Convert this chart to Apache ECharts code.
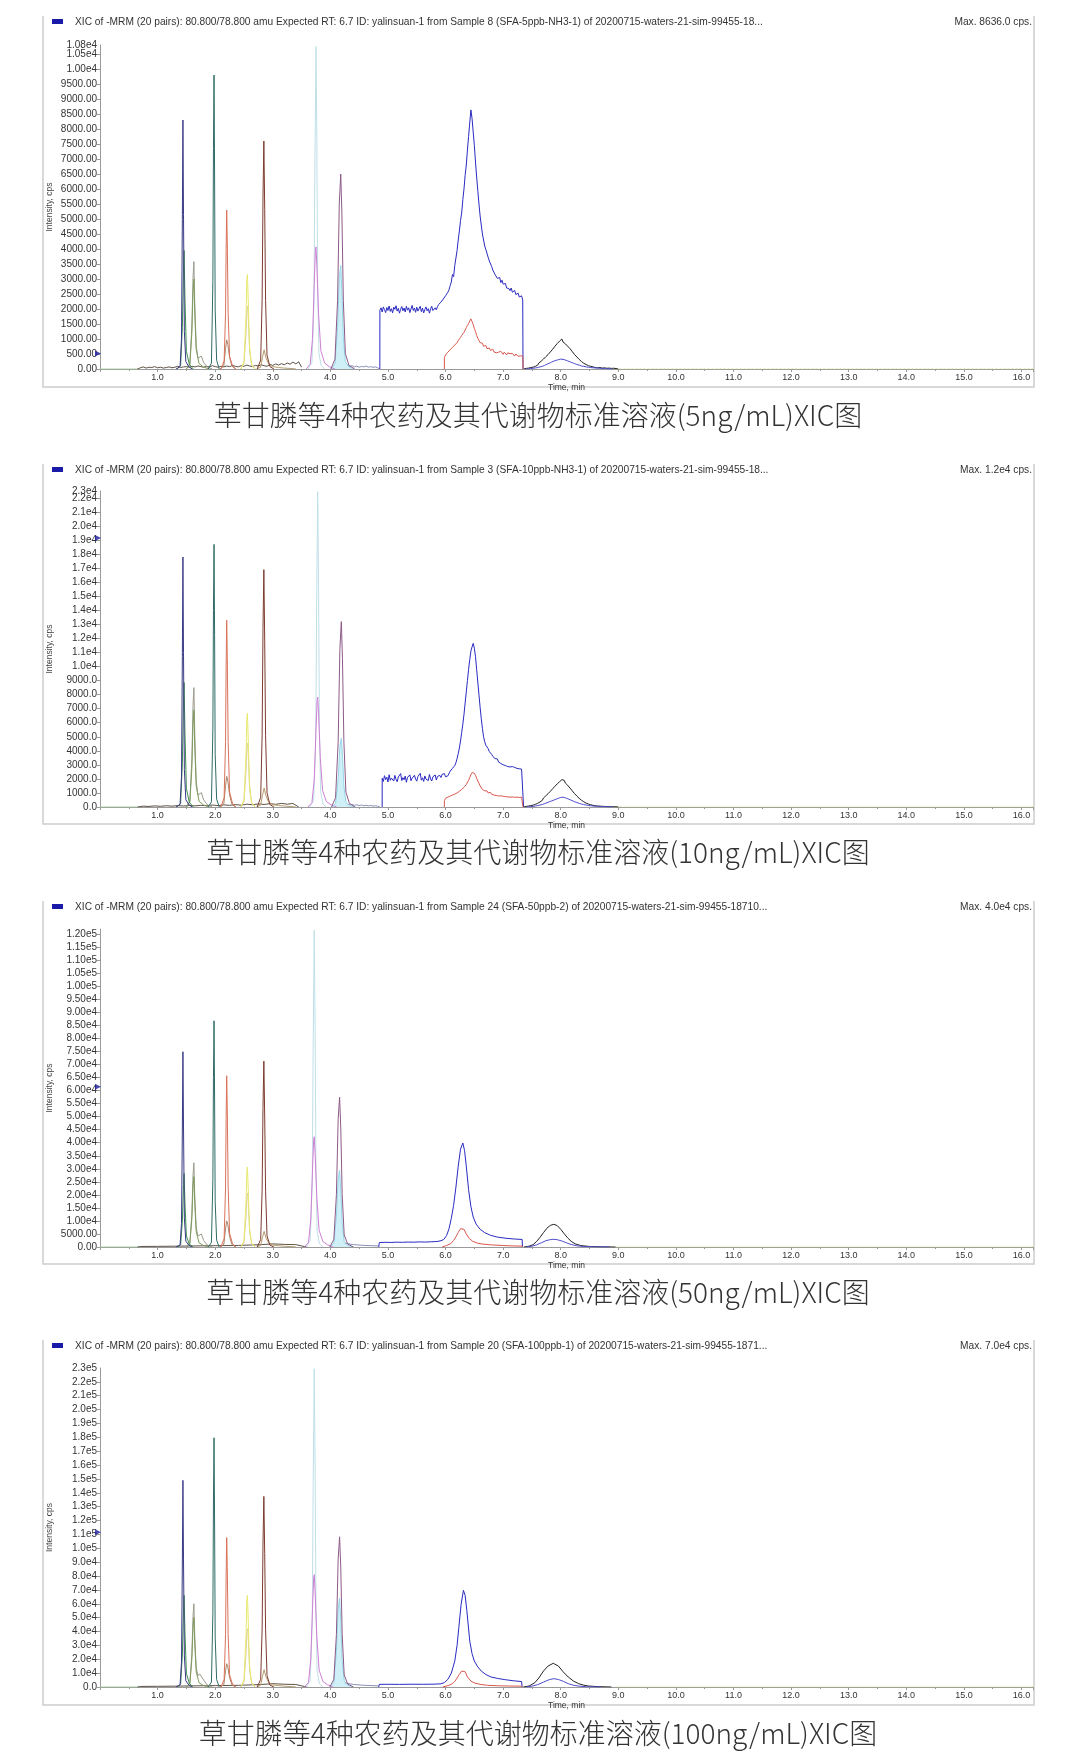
<!DOCTYPE html>
<html>
<head>
<meta charset="utf-8">
<script src="https://cdn.jsdelivr.net/npm/echarts@6/dist/echarts.min.js"></script>
<style>
  html, body { margin: 0; padding: 0; background: #fff; }
  #chart { width: 1080px; height: 1758px; }
</style>
</head>
<body>
<div id="chart"></div>
<script>
// ---- data: retention-time grids shared by the four runs (min) ----
const T_NAVY   = [1.32, 1.39, 1.415, 1.43, 1.44, 1.45, 1.465, 1.49, 1.54, 1.60];
const T_GREEN  = [1.34, 1.40, 1.43, 1.45, 1.46, 1.475, 1.50, 1.55, 1.62];
const T_GRAY   = [1.50, 1.56, 1.595, 1.615, 1.63, 1.645, 1.67, 1.70, 1.73, 1.76, 1.80, 1.86, 1.95];
const T_OLIVE  = [1.50, 1.56, 1.595, 1.615, 1.63, 1.645, 1.67, 1.72, 1.80, 1.90];
const T_TEAL   = [1.88, 1.935, 1.96, 1.97, 1.98, 1.99, 2.00, 2.025, 2.07];
const T_RED    = [2.10, 2.155, 2.18, 2.19, 2.20, 2.21, 2.225, 2.25, 2.30, 2.36];
const T_BROWN  = [2.08, 2.15, 2.18, 2.20, 2.22, 2.25, 2.29, 2.35];
const T_YELLOW = [2.45, 2.50, 2.535, 2.55, 2.56, 2.575, 2.595, 2.63, 2.69];
const T_TAN    = [2.44, 2.50, 2.535, 2.55, 2.565, 2.58, 2.60, 2.64, 2.70];
const T_DBROWN = [2.73, 2.79, 2.815, 2.83, 2.845, 2.86, 2.875, 2.90, 2.95, 3.02];
const T_TAN2   = [2.72, 2.79, 2.82, 2.85, 2.88, 2.93, 3.00, 3.10, 3.20, 3.30, 3.40];

// later peaks drift a little between runs
const T_CYAN_1 = [3.61, 3.68, 3.715, 3.732, 3.75, 3.765, 3.78, 3.80, 3.84, 3.90];
const T_CYAN_2 = [3.64, 3.71, 3.745, 3.762, 3.78, 3.795, 3.81, 3.83, 3.87, 3.93];
const T_CYAN_3 = [3.58, 3.65, 3.685, 3.702, 3.72, 3.735, 3.75, 3.77, 3.81, 3.87];
const T_PINK_1 = [3.58, 3.65, 3.69, 3.72, 3.74, 3.75, 3.765, 3.795, 3.835, 3.90, 3.98, 4.08];
const T_PINK_2 = [3.61, 3.68, 3.72, 3.75, 3.77, 3.78, 3.795, 3.825, 3.865, 3.93, 4.01, 4.11];
const T_PINK_3 = [3.55, 3.62, 3.66, 3.69, 3.71, 3.72, 3.735, 3.765, 3.805, 3.87, 3.95, 4.05];
const T_MAUVE_1 = [4.01, 4.08, 4.125, 4.155, 4.18, 4.20, 4.225, 4.26, 4.32, 4.42];
const T_MAUVE_2 = [4.02, 4.09, 4.135, 4.165, 4.19, 4.21, 4.235, 4.27, 4.33, 4.43];
const T_MAUVE_3 = [3.99, 4.06, 4.105, 4.135, 4.16, 4.18, 4.205, 4.24, 4.30, 4.40];

// ---- 5 ng/mL ----
const p1Navy   = [0, 80, 1000, 4980, 8300, 5150, 1250, 250, 80, 0];
const p1Green  = [0, 120, 1380, 3360, 3950, 2370, 590, 160, 0];
const p1Gray   = [0, 180, 1430, 3040, 3580, 2220, 790, 360, 390, 430, 210, 70, 0];
const p1Olive  = [0, 150, 1200, 2550, 3000, 1860, 660, 180, 60, 0];
const p1Teal   = [0, 200, 2940, 7350, 9800, 6370, 1960, 290, 0];
const p1Red    = [0, 270, 1860, 3980, 5300, 4240, 1860, 420, 110, 0];
const p1Brown  = [0, 100, 680, 970, 820, 390, 100, 0];
const p1Yellow = [0, 250, 1730, 2990, 3150, 2200, 790, 160, 0];
const p1Tan    = [0, 170, 1150, 1990, 2090, 1460, 520, 100, 0];
const p1DBrown = [0, 300, 2280, 5700, 7600, 5320, 2280, 460, 80, 0];
const p1Tan2   = [0, 60, 380, 640, 380, 160, 80, 50, 30, 20, 0];
const p1Cyan   = [0, 215, 2150, 6990, 10750, 7530, 2690, 540, 110, 0];
const p1Pink   = [0, 160, 1020, 2850, 3950, 4070, 3460, 1830, 610, 200, 80, 0];
const p1Mauve  = [0, 330, 2280, 5530, 6500, 5200, 2280, 520, 130, 0];
const p1CyanFill = [0, 170, 1380, 3040, 3450, 2590, 1040, 240, 70, 0];
const p1Base = [0, 40, 70, 30, 60, 50, 80, 40, 60, 30,
  50, 70, 40, 60, 90, 50, 70, 80, 60, 90,
  70, 100, 80, 60, 90, 70, 110, 80, 60, 90,
  70, 100, 80, 120, 90, 70, 110, 90, 130, 100,
  80, 120, 100, 140, 110, 90, 150, 120, 170, 130,
  180, 140, 200, 160, 230, 170, 240, 60];
const p1Tail = [120, 90, 110, 70, 95, 60, 85, 70, 100, 60, 80, 55, 70, 40, 0];
const p1Blue = [1960, 2040, 1900, 2070, 1980, 1880, 2050, 1950, 2100, 1920,
  2010, 1870, 2060, 1990, 2110, 1930, 2020, 1860, 1990, 2080,
  1940, 2030, 1900, 2090, 1960, 2040, 1880, 2000, 2120, 1950,
  2030, 1890, 2060, 1930, 1990, 2090, 1910, 2030, 1870, 1980,
  2070, 1940, 2010, 1860, 2000, 2090, 1950, 1890, 2040, 1970,
  2080, 2150, 2090, 2230, 2180, 2330, 2280, 2440, 2380, 2560,
  2640, 2780, 2900, 3150, 3080, 3450, 3700, 3950, 4300, 4600,
  4950, 5200, 5650, 6000, 6450, 6800, 7300, 7750, 8200, 8636,
  8350, 7900, 7450, 6900, 6400, 5950, 5500, 5100, 4800, 4500,
  4300, 4100, 3980, 3950, 3720, 3600, 3580, 3420, 3300, 3320,
  3150, 3180, 3020, 2990, 3050, 2880, 2960, 2830, 2790, 2850,
  2700, 2760, 2680, 2610, 2700, 2560, 2580, 2620, 2480, 2450, 2530, 2400, 2380, 2440, 2300];
const p1Red2 = [380, 470, 420, 560, 520, 640, 600, 720, 680, 800,
  760, 880, 950, 900, 1050, 1120, 1060, 1220, 1300, 1380,
  1450, 1520, 1600, 1670, 1580, 1480, 1350, 1250, 1120, 1030,
  950, 880, 820, 860, 760, 720, 780, 680, 640, 700,
  620, 590, 660, 570, 610, 540, 600, 560, 520, 590,
  530, 490, 560, 500, 470, 540, 480, 510, 450, 520,
  470, 430, 500, 450, 420, 480, 440, 470, 430];
const p1Black = [0, 40, 20, 60, 30, 70, 50, 90, 60, 110,
  90, 150, 130, 200, 180, 260, 230, 330, 300, 410,
  380, 480, 460, 570, 540, 660, 620, 760, 720, 850,
  800, 930, 880, 1000, 900, 960, 840, 880, 760, 800,
  680, 700, 580, 600, 480, 500, 400, 410, 320, 330,
  250, 270, 190, 210, 150, 160, 110, 130, 90, 100,
  70, 90, 50, 80, 40, 70, 50, 60, 30, 55,
  40, 50, 25, 45, 30, 40, 20, 35, 25, 30, 15, 20, 0];
const p1BlueSmall = [0, 20, 10, 30, 15, 40, 25, 50, 35, 60,
  50, 80, 70, 110, 90, 140, 120, 180, 160, 210,
  190, 250, 230, 290, 260, 320, 290, 340, 310, 350,
  330, 360, 320, 340, 300, 310, 270, 280, 240, 250,
  210, 220, 180, 190, 150, 160, 130, 140, 100, 110,
  90, 100, 70, 80, 60, 70, 50, 55, 40, 45,
  35, 40, 30, 35, 25, 30, 20, 25, 15, 20, 12, 15, 10, 12, 5, 0];

// ---- 10 ng/mL ----
const p2Navy   = [0, 180, 2140, 10700, 17800, 11000, 2670, 530, 180, 0];
const p2Green  = [0, 270, 3100, 7530, 8860, 5320, 1330, 350, 0];
const p2Gray   = [0, 430, 3400, 7230, 8500, 5270, 1870, 850, 940, 1020, 510, 170, 0];
const p2Olive  = [0, 350, 2760, 5870, 6900, 4280, 1520, 410, 140, 0];
const p2Teal   = [0, 370, 5610, 14000, 18700, 12200, 3740, 560, 0];
const p2Red    = [0, 670, 4660, 9980, 13300, 10640, 4660, 1060, 270, 0];
const p2Brown  = [0, 220, 1530, 2180, 1850, 870, 220, 0];
const p2Yellow = [0, 530, 3670, 6350, 6680, 4680, 1670, 330, 0];
const p2Tan    = [0, 360, 2500, 4320, 4550, 3190, 1140, 230, 0];
const p2DBrown = [0, 680, 5070, 12700, 16900, 11800, 5070, 1010, 170, 0];
const p2Tan2   = [0, 140, 810, 1350, 810, 340, 160, 110, 70, 40, 0];
const p2Cyan   = [0, 450, 4490, 14600, 22450, 15700, 5610, 1120, 220, 0];
const p2Pink   = [0, 310, 1960, 5470, 7590, 7820, 6650, 3520, 1170, 390, 160, 0];
const p2Mauve  = [0, 660, 4620, 11200, 13200, 10560, 4620, 1060, 260, 0];
const p2CyanFill = [0, 250, 1960, 4310, 4900, 3680, 1470, 340, 100, 0];
const p2Base = [0, 60, 40, 80, 50, 90, 60, 100, 70, 110, 80, 120, 90, 140, 100,
  150, 120, 170, 130, 200, 160, 220, 180, 240, 190, 260, 200, 250, 0];
const p2Tail = [200, 150, 180, 120, 160, 100, 140, 90, 120, 80, 110, 70, 90, 60, 0];
const p2Blue = [2050, 1820, 2230, 1950, 2120, 1780, 2300, 1900, 2060, 2180,
  1850, 2250, 1970, 1800, 2140, 2020, 2380, 1880, 2090, 1940,
  2200, 1760, 2110, 2010, 2290, 1870, 2050, 1930, 2260, 1990,
  1840, 2170, 2060, 2400, 1910, 2080, 1820, 2210, 1990, 2130,
  1880, 2320, 2000, 1850, 2150, 2060, 2280, 1920, 2180, 2040,
  2250, 2100, 2320, 2200, 2380, 2150, 2280, 2220,
  2350, 2550, 2480, 2750, 2700, 2950, 3150, 3450, 3800, 4200,
  4700, 5300, 5900, 6600, 7400, 8200, 9000, 9800, 10500, 11100,
  11400, 11650, 11300, 10700, 9800, 8900, 8000, 7100, 6300, 5600,
  5000, 4650, 4400, 4450, 4150, 3950, 4000, 3750, 3600, 3650,
  3450, 3380, 3420, 3200, 3250, 3100, 3180, 3000, 3050, 2950,
  3020, 2880, 2950, 2850, 2800, 2880, 2760, 2820, 2700, 2750, 2680, 2720, 2640, 2700, 2650];
const p2Red2 = [450, 620, 520, 700, 600, 780, 680, 850, 760, 920,
  850, 1000, 950, 1120, 1080, 1250, 1200, 1400, 1380, 1600,
  1700, 1900, 2100, 2300, 2450, 2550, 2400, 2250, 2050, 1850,
  1700, 1500, 1400, 1250, 1300, 1150, 1050, 1150, 1000, 950,
  1050, 900, 980, 850, 950, 820, 900, 780, 880, 800,
  860, 760, 840, 740, 820, 720, 800, 700, 780, 720,
  800, 690, 760, 700, 780, 680, 740, 700, 650];
const p2Black = [0, 60, 40, 90, 70, 120, 100, 160, 130, 210,
  190, 290, 260, 380, 360, 500, 470, 640, 610, 790,
  760, 950, 920, 1120, 1080, 1300, 1260, 1480, 1440, 1650,
  1600, 1800, 1750, 1950, 1850, 1900, 1700, 1760, 1550, 1580,
  1350, 1380, 1150, 1170, 950, 980, 780, 800, 620, 640,
  480, 510, 370, 400, 280, 310, 210, 240, 160, 190,
  120, 150, 90, 120, 70, 100, 60, 80, 50, 70,
  40, 60, 35, 50, 30, 45, 25, 40, 20, 30, 15, 20, 0];
const p2BlueSmall = [0, 30, 15, 50, 30, 70, 45, 90, 70, 120,
  100, 160, 140, 210, 180, 270, 240, 340, 300, 400,
  370, 460, 430, 530, 490, 600, 560, 660, 620, 720,
  680, 750, 700, 730, 650, 670, 590, 600, 520, 540,
  450, 470, 380, 400, 320, 330, 260, 280, 210, 230,
  170, 190, 140, 160, 110, 130, 90, 100, 70, 80,
  60, 70, 50, 60, 40, 50, 30, 40, 25, 30, 20, 25, 15, 20, 10, 0];

// ---- 50 ng/mL ----
const p3Navy   = [0, 750, 9000, 44900, 74900, 46400, 11200, 2250, 750, 0];
const p3Green  = [0, 850, 9870, 24000, 28200, 16900, 4230, 1130, 0];
const p3Gray   = [0, 1600, 12900, 27500, 32300, 20000, 7500, 4200, 4800, 5000, 2500, 800, 0];
const p3Olive  = [0, 1350, 10800, 23000, 27000, 16700, 5900, 1600, 540, 0];
const p3Teal   = [0, 1740, 26000, 65100, 86800, 56400, 17400, 2600, 0];
const p3Red    = [0, 3300, 23000, 49300, 65700, 52600, 23000, 5260, 1310, 0];
const p3Brown  = [0, 1000, 7000, 10000, 8500, 4000, 1000, 0];
const p3Yellow = [0, 2460, 16900, 29200, 30700, 21500, 7680, 1540, 0];
const p3Tan    = [0, 1660, 11400, 19700, 20700, 14500, 5180, 1040, 0];
const p3DBrown = [0, 2850, 21400, 53500, 71300, 49900, 21400, 4280, 710, 0];
const p3Tan2   = [0, 600, 3600, 6000, 3600, 1500, 720, 480, 300, 180, 0];
const p3Cyan   = [0, 2430, 24300, 79000, 121500, 85000, 30400, 6080, 1220, 0];
const p3Pink   = [0, 1690, 10600, 29600, 41000, 42300, 36000, 19000, 6350, 2100, 850, 0];
const p3Mauve  = [0, 2880, 20100, 48900, 57500, 46000, 20100, 4600, 1150, 0];
const p3CyanFill = [0, 1480, 11800, 26000, 29500, 22100, 8850, 2070, 590, 0];
const p3Base = [[0.65, 0], [0.7, 200], [1.0, 250], [1.3, 300], [1.6, 400], [2.0, 500], [2.4, 600],
  [2.8, 900], [3.0, 1200], [3.2, 1000], [3.4, 900], [3.5, 400], [3.6, 0]];
const p3Tail = [[4.25, 1500], [4.4, 900], [4.6, 600], [4.84, 400]];
const p3Blue = [[4.84, 0], [4.85, 1700], [4.95, 1800], [5.05, 1750], [5.15, 1850], [5.25, 1800],
  [5.35, 1900], [5.45, 1850], [5.55, 1950], [5.65, 1900], [5.75, 2000], [5.85, 2100], [5.92, 2400],
  [5.97, 2900], [6.02, 4500], [6.06, 7000], [6.10, 11000], [6.14, 16000], [6.18, 23000],
  [6.22, 31000], [6.26, 37500], [6.30, 39900], [6.33, 37000], [6.36, 31000], [6.40, 22000],
  [6.44, 15500], [6.48, 11500], [6.53, 8800], [6.60, 6800], [6.68, 5500], [6.78, 4500],
  [6.90, 3800], [7.05, 3350], [7.20, 3050], [7.33, 2900], [7.335, 0]];
const p3Red2 = [[5.94, 0], [5.96, 250], [6.02, 600], [6.09, 1300], [6.14, 2500], [6.18, 3900],
  [6.22, 5600], [6.26, 7000], [6.29, 7450], [6.32, 6800], [6.36, 5000], [6.41, 3300],
  [6.47, 2200], [6.55, 1500], [6.65, 1100], [6.80, 800], [7.00, 550], [7.20, 400], [7.33, 350], [7.335, 0]];
const p3Black = [[7.36, 0], [7.45, 300], [7.52, 900], [7.58, 2100], [7.64, 3700], [7.70, 5500],
  [7.76, 7200], [7.82, 8300], [7.88, 8700], [7.94, 8200], [8.00, 6800], [8.06, 5100],
  [8.12, 3500], [8.18, 2200], [8.25, 1200], [8.35, 550], [8.50, 200], [8.70, 60], [8.95, 0]];
const p3BlueSmall = [[7.40, 0], [7.50, 300], [7.58, 800], [7.66, 1600], [7.74, 2400], [7.82, 2850],
  [7.88, 2950], [7.94, 2800], [8.02, 2300], [8.10, 1600], [8.18, 950], [8.28, 450],
  [8.40, 180], [8.60, 50], [8.85, 0]];

// ---- 100 ng/mL ----
const p4Navy   = [0, 1500, 17900, 89400, 149000, 92400, 22400, 4500, 1500, 0];
const p4Green  = [0, 1980, 23100, 56200, 66100, 39700, 9900, 2640, 0];
const p4Gray   = [0, 3000, 24000, 51000, 60000, 37000, 14000, 8000, 9500, 10000, 5000, 1500, 0];
const p4Olive  = [0, 2500, 20000, 42500, 50000, 31000, 11000, 3000, 1000, 0];
const p4Teal   = [0, 3600, 53900, 134800, 179700, 116800, 35900, 5400, 0];
const p4Red    = [0, 5400, 37700, 80800, 107700, 86200, 37700, 8600, 2150, 0];
const p4Brown  = [0, 1680, 11800, 16800, 14300, 6700, 1680, 0];
const p4Yellow = [0, 5300, 36400, 62800, 66100, 46300, 16500, 3300, 0];
const p4Tan    = [0, 3360, 23100, 39900, 42000, 29400, 10500, 2100, 0];
const p4DBrown = [0, 5500, 41200, 103000, 137400, 96200, 41200, 8240, 1370, 0];
const p4Tan2   = [0, 1250, 7500, 12500, 7500, 3100, 1500, 1000, 620, 380, 0];
const p4Cyan   = [0, 4590, 45900, 149000, 229500, 160600, 57400, 11500, 2300, 0];
const p4Pink   = [0, 3240, 20300, 56700, 78600, 81000, 68900, 36500, 12200, 4050, 1620, 0];
const p4Mauve  = [0, 5420, 37900, 92100, 108300, 86600, 37900, 8660, 2170, 0];
const p4CyanFill = [0, 3200, 25600, 56300, 64000, 48000, 19200, 4480, 1280, 0];
const p4Base = [[0.65, 0], [0.7, 400], [1.0, 500], [1.3, 600], [1.6, 800], [2.0, 1000], [2.4, 1200],
  [2.8, 1800], [3.0, 2400], [3.2, 2000], [3.4, 1800], [3.5, 800], [3.6, 0]];
const p4Tail = [[4.25, 3000], [4.4, 1800], [4.6, 1200], [4.84, 800]];
const p4Blue = [[4.84, 0], [4.85, 1900], [5.0, 1950], [5.2, 1900], [5.4, 2000], [5.6, 1950],
  [5.8, 2050], [5.92, 2300], [5.98, 3200], [6.04, 5500], [6.10, 10000], [6.16, 18700],
  [6.20, 30000], [6.23, 42800], [6.27, 59600], [6.31, 69700], [6.34, 66000], [6.37, 55000],
  [6.42, 33200], [6.46, 24000], [6.50, 18700], [6.56, 14500], [6.62, 11500], [6.70, 9000],
  [6.79, 7200], [6.90, 6200], [7.03, 5300], [7.18, 4500], [7.32, 3900], [7.33, 0]];
const p4Red2 = [[5.95, 0], [5.98, 500], [6.06, 1200], [6.12, 2500], [6.16, 4000], [6.20, 6500],
  [6.24, 9100], [6.28, 11500], [6.31, 12300], [6.34, 11000], [6.38, 7200], [6.44, 4300],
  [6.50, 2900], [6.60, 1900], [6.73, 1200], [6.90, 900], [7.10, 700], [7.32, 600], [7.33, 0]];
const p4Black = [[7.35, 0], [7.45, 700], [7.55, 3100], [7.62, 6500], [7.70, 11500], [7.78, 15100],
  [7.87, 17100], [7.96, 15100], [8.04, 11000], [8.13, 7200], [8.22, 4300], [8.31, 2400],
  [8.40, 1300], [8.48, 700], [8.65, 250], [8.88, 0]];
const p4BlueSmall = [[7.40, 0], [7.50, 600], [7.60, 1700], [7.70, 3500], [7.80, 5300], [7.88, 6000],
  [7.96, 5400], [8.05, 4000], [8.13, 2400], [8.22, 1300], [8.32, 600], [8.45, 200], [8.70, 0]];

// flat traces lying on the time axis
const flatStart = [[0, 0], [0.65, 0]];
const flatEnd = [[8.95, 0], [16.2, 0]];

// y-axis markers and axis settings per run
const yMaxes = [10800, 22500, 122000, 230000];
const yIntervals = [500, 1000, 5000, 10000];
const topLabelShown = [true, true, false, true];
const markerValues = [520, 19150, 61500, 111500];

const headerSamples = [
  'Sample 8 (SFA-5ppb-NH3-1) of 20200715-waters-21-sim-99455-18...',
  'Sample 3 (SFA-10ppb-NH3-1) of 20200715-waters-21-sim-99455-18...',
  'Sample 24 (SFA-50ppb-2) of 20200715-waters-21-sim-99455-18710...',
  'Sample 20 (SFA-100ppb-1) of 20200715-waters-21-sim-99455-1871...'
];
const maxLabels = ['Max. 8636.0 cps.', 'Max. 1.2e4 cps.', 'Max. 4.0e4 cps.', 'Max. 7.0e4 cps.'];
const captions = [
  '草甘膦等4种农药及其代谢物标准溶液(5ng/mL)XIC图',
  '草甘膦等4种农药及其代谢物标准溶液(10ng/mL)XIC图',
  '草甘膦等4种农药及其代谢物标准溶液(50ng/mL)XIC图',
  '草甘膦等4种农药及其代谢物标准溶液(100ng/mL)XIC图'
];

// ---- helpers ----
const zip = (ts, vs) => ts.map((t, i) => [t, vs[i]]);
const seq = (t0, dt, vals) => vals.map((v, i) => [Math.round((t0 + i * dt) * 1000) / 1000, v]);

const runs = [
  {
    base: seq(0.65, 0.05, p1Base), tail: seq(4.30, 0.04, p1Tail),
    navy: zip(T_NAVY, p1Navy), green: zip(T_GREEN, p1Green), gray: zip(T_GRAY, p1Gray),
    olive: zip(T_OLIVE, p1Olive), teal: zip(T_TEAL, p1Teal), red: zip(T_RED, p1Red),
    brown: zip(T_BROWN, p1Brown), yellow: zip(T_YELLOW, p1Yellow), tan: zip(T_TAN, p1Tan),
    dbrown: zip(T_DBROWN, p1DBrown), tan2: zip(T_TAN2, p1Tan2),
    cyan: zip(T_CYAN_1, p1Cyan), pink: zip(T_PINK_1, p1Pink),
    mauve: zip(T_MAUVE_1, p1Mauve), cyanFill: zip(T_MAUVE_1, p1CyanFill),
    blue: [[4.859, 0]].concat(seq(4.86, 0.02, p1Blue), [[7.345, 0]]),
    red2: [[5.979, 0]].concat(seq(5.98, 0.02, p1Red2), [[7.345, 0]]),
    black: seq(7.36, 0.02, p1Black), blueSmall: seq(7.40, 0.02, p1BlueSmall)
  },
  {
    base: seq(0.65, 0.1, p2Base), tail: seq(4.30, 0.04, p2Tail),
    navy: zip(T_NAVY, p2Navy), green: zip(T_GREEN, p2Green), gray: zip(T_GRAY, p2Gray),
    olive: zip(T_OLIVE, p2Olive), teal: zip(T_TEAL, p2Teal), red: zip(T_RED, p2Red),
    brown: zip(T_BROWN, p2Brown), yellow: zip(T_YELLOW, p2Yellow), tan: zip(T_TAN, p2Tan),
    dbrown: zip(T_DBROWN, p2DBrown), tan2: zip(T_TAN2, p2Tan2),
    cyan: zip(T_CYAN_2, p2Cyan), pink: zip(T_PINK_2, p2Pink),
    mauve: zip(T_MAUVE_2, p2Mauve), cyanFill: zip(T_MAUVE_2, p2CyanFill),
    blue: [[4.899, 0]].concat(seq(4.90, 0.02, p2Blue), [[7.355, 0]]),
    red2: [[5.979, 0]].concat(seq(5.98, 0.02, p2Red2), [[7.345, 0]]),
    black: seq(7.36, 0.02, p2Black), blueSmall: seq(7.40, 0.02, p2BlueSmall)
  },
  {
    base: p3Base, tail: p3Tail,
    navy: zip(T_NAVY, p3Navy), green: zip(T_GREEN, p3Green), gray: zip(T_GRAY, p3Gray),
    olive: zip(T_OLIVE, p3Olive), teal: zip(T_TEAL, p3Teal), red: zip(T_RED, p3Red),
    brown: zip(T_BROWN, p3Brown), yellow: zip(T_YELLOW, p3Yellow), tan: zip(T_TAN, p3Tan),
    dbrown: zip(T_DBROWN, p3DBrown), tan2: zip(T_TAN2, p3Tan2),
    cyan: zip(T_CYAN_3, p3Cyan), pink: zip(T_PINK_3, p3Pink),
    mauve: zip(T_MAUVE_3, p3Mauve), cyanFill: zip(T_MAUVE_3, p3CyanFill),
    blue: p3Blue, red2: p3Red2, black: p3Black, blueSmall: p3BlueSmall
  },
  {
    base: p4Base, tail: p4Tail,
    navy: zip(T_NAVY, p4Navy), green: zip(T_GREEN, p4Green), gray: zip(T_GRAY, p4Gray),
    olive: zip(T_OLIVE, p4Olive), teal: zip(T_TEAL, p4Teal), red: zip(T_RED, p4Red),
    brown: zip(T_BROWN, p4Brown), yellow: zip(T_YELLOW, p4Yellow), tan: zip(T_TAN, p4Tan),
    dbrown: zip(T_DBROWN, p4DBrown), tan2: zip(T_TAN2, p4Tan2),
    cyan: zip(T_CYAN_3, p4Cyan), pink: zip(T_PINK_3, p4Pink),
    mauve: zip(T_MAUVE_3, p4Mauve), cyanFill: zip(T_MAUVE_3, p4CyanFill),
    blue: p4Blue, red2: p4Red2, black: p4Black, blueSmall: p4BlueSmall
  }
];

// trace colours, drawing order
const traceStyles = [
  ['base', '#5e5244'], ['tail', '#8a90b8'],
  ['cyan', '#bfdfe7'], ['gray', '#9c9a8c'], ['olive', '#7f9c5e'], ['green', '#3f8f4f'],
  ['navy', '#3a3a86'], ['teal', '#2f6c66'], ['brown', '#a88468'], ['red', '#d9725a'],
  ['tan', '#dccf9c'], ['yellow', '#e8e86e'], ['tan2', '#b59c6c'], ['dbrown', '#7b3b2e'],
  ['pink', '#cf7fd4'], ['cyanFill', '#97d6e8'], ['mauve', '#8c5a86'],
  ['blue', '#2a2ac0'], ['red2', '#d9574d'], ['black', '#222222'], ['blueSmall', '#4d4dcc']
];

const yFormatters = [
  v => v >= 10000 ? v.toExponential(2).replace('+', '') : v.toFixed(2),
  v => v >= 10000 ? v.toExponential(1).replace('+', '') : v.toFixed(1),
  v => v % 5000 !== 0 ? '' : (v >= 10000 ? v.toExponential(2).replace('+', '') : v.toFixed(2)),
  v => v === 0 ? '0.0' : v.toExponential(1).replace('+', '')
];

// layout (pixels)
const GRID_LEFT = 100, GRID_WIDTH = 933;
const gridTops = [45, 491, 929, 1368];
const gridHeights = [324, 316, 318, 319];
const headerYs = [22, 470, 907, 1346];
const boxBottoms = [387, 824, 1264, 1705];
const captionYs = [415, 852, 1292, 1733];

const chart = echarts.init(document.getElementById('chart'), null, { renderer: 'canvas' });

const grids = [], xAxes = [], yAxes = [], series = [], graphics = [];
const axisColor = '#9a9a9a';
const FONT = 'Liberation Sans';
const Y_LABEL = { margin: 3, fontFamily: FONT, fontSize: 10, color: '#333' };

runs.forEach((run, i) => {
  grids.push({ left: GRID_LEFT, top: gridTops[i], width: GRID_WIDTH, height: gridHeights[i] });
  xAxes.push({
    type: 'value', gridIndex: i, min: 0, max: 16.2, interval: 1,
    name: 'Time, min', nameLocation: 'middle', nameGap: 13,
    nameTextStyle: { fontFamily: FONT, fontSize: 8.5, color: '#333' },
    axisLine: { lineStyle: { color: axisColor, width: 1 } },
    axisTick: { show: true, length: 3, lineStyle: { color: axisColor } },
    minorTick: { show: true, splitNumber: 2, length: 2, lineStyle: { color: axisColor } },
    splitLine: { show: false },
    axisLabel: {
      margin: 4, fontFamily: FONT, fontSize: 9, color: '#333',
      formatter: v => (v < 0.5 || Math.abs(v - Math.round(v)) > 0.01) ? '' : v.toFixed(1)
    }
  });
});

// main value axes (every tick label except the top one)
runs.forEach((run, i) => {
  yAxes.push({
    type: 'value', gridIndex: i, min: 0, max: yMaxes[i], interval: yIntervals[i],
    name: 'Intensity, cps', nameLocation: 'middle', nameGap: 46, nameRotate: 90,
    nameMoveOverlap: false,
    nameTextStyle: { fontFamily: FONT, fontSize: 8.5, color: '#444' },
    axisLine: { show: true, lineStyle: { color: axisColor, width: 1 } },
    axisTick: { show: true, length: 3, lineStyle: { color: axisColor } },
    splitLine: { show: false },
    axisLabel: Object.assign({ showMaxLabel: false, showMinLabel: true, formatter: yFormatters[i] }, Y_LABEL)
  });
});
// companion axes carrying only the top label, so it never knocks out its neighbour
runs.forEach((run, i) => {
  const top = yMaxes[i];
  yAxes.push({
    type: 'value', gridIndex: i, min: 0, max: top, interval: top, position: 'left',
    axisLine: { show: false }, axisTick: { show: false }, splitLine: { show: false },
    axisLabel: Object.assign({ showMinLabel: false, showMaxLabel: true,
      formatter: v => (v === top && topLabelShown[i]) ? yFormatters[i](v) : '' }, Y_LABEL)
  });
});

runs.forEach((run, i) => {
  series.push({ type: 'line', xAxisIndex: i, yAxisIndex: i, data: flatStart, showSymbol: false,
    lineStyle: { width: 1, color: '#a8d4a0' }, silent: true, animation: false });
  series.push({ type: 'line', xAxisIndex: i, yAxisIndex: i, data: flatEnd, showSymbol: false,
    lineStyle: { width: 1.2, color: '#d2d47c', type: [2, 2] }, silent: true, animation: false });

  traceStyles.forEach(([key, color]) => {
    const s = {
      type: 'line', xAxisIndex: i, yAxisIndex: i, data: run[key],
      showSymbol: false, symbol: 'none', silent: true, animation: false,
      lineStyle: { width: 1, color: color }
    };
    if (key === 'cyanFill') s.areaStyle = { color: '#cdeff8', opacity: 0.95 };
    series.push(s);
  });

  series.push({
    type: 'scatter', xAxisIndex: i, yAxisIndex: i, data: [[0, markerValues[i]]],
    symbol: 'triangle', symbolRotate: -90, symbolSize: 6, symbolOffset: [-2, 0],
    itemStyle: { color: '#1c1c9c' }, silent: true, animation: false, clip: false
  });

  // panel frame, header and caption
  const hy = headerYs[i], by = boxBottoms[i];
  graphics.push({ type: 'polyline', silent: true,
    shape: { points: [[43, hy - 6], [43, by], [1034, by], [1034, hy - 6]] },
    style: { stroke: '#cdcdcd', lineWidth: 1.5, fill: null } });
  graphics.push({ type: 'rect', silent: true, shape: { x: 52, y: hy - 3, width: 11, height: 5 },
    style: { fill: '#1a1aa8' } });
  graphics.push({ type: 'text', silent: true, x: 75, y: hy,
    style: { text: 'XIC of -MRM (20 pairs): 80.800/78.800 amu Expected RT: 6.7 ID: yalinsuan-1 from ' + headerSamples[i],
      fontFamily: FONT, fontSize: 10.2, fill: '#333', verticalAlign: 'middle' } });
  graphics.push({ type: 'text', silent: true, x: 1032, y: hy,
    style: { text: maxLabels[i], fontFamily: FONT, fontSize: 10.2, fill: '#333',
      align: 'right', verticalAlign: 'middle' } });
  graphics.push({ type: 'text', silent: true, x: 538, y: captionYs[i],
    style: { text: captions[i], fontFamily: 'Noto Sans CJK SC', fontSize: 28, fontWeight: 300,
      fill: '#333', align: 'center', verticalAlign: 'middle' } });
});

chart.setOption({
  backgroundColor: '#ffffff',
  animation: false,
  grid: grids,
  xAxis: xAxes,
  yAxis: yAxes,
  series: series,
  graphic: graphics
});
</script>
</body>
</html>
